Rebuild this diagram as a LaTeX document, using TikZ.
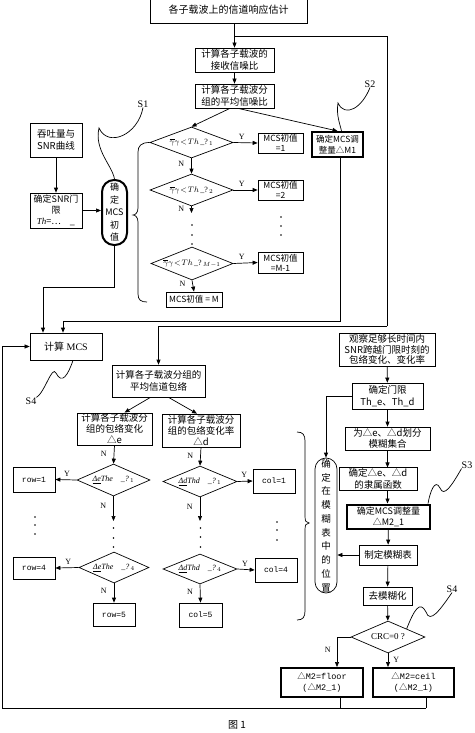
\documentclass[tikz,border=0pt]{standalone}
\usepackage{fontspec}
\setmainfont{Liberation Serif}
\newfontfamily\cjkf{Noto Sans CJK SC}
\newfontfamily\monof{Liberation Mono}
\usetikzlibrary{shapes.geometric,arrows.meta}
\newcommand{\tri}{{\cjkf △}}
\begin{document}
\begin{tikzpicture}[x=1pt,y=-1pt,
  box/.style={draw, line width=0.7pt, inner sep=1pt, align=center, font=\cjkf\fontsize{9.5}{11.5}\selectfont},
  tbox/.style={box, line width=2pt},
  mbox/.style={box, minimum width=45, minimum height=20, font=\cjkf\fontsize{8.5}{10}\selectfont},
  rbox/.style={box, minimum width=42, font=\monof\fontsize{8}{9}\selectfont},
  dia/.style={draw, line width=0.7pt, diamond, aspect=2.6, inner sep=0pt, font=\fontsize{8}{9}\selectfont},
  stad/.style={draw, line width=0.7pt, rounded corners=11pt, inner sep=0pt, align=center, font=\cjkf\fontsize{9.5}{13.75}\selectfont},
  arr/.style={line width=0.7pt, -{Triangle[length=5pt,width=4pt]}},
  ln/.style={line width=0.7pt},
  lab/.style={font=\fontsize{8}{8}\selectfont, inner sep=0pt},
  sl/.style={font=\fontsize{10}{10}\selectfont, inner sep=0pt}
]
\useasboundingbox (0,0) rectangle (474,733);

% ---------- top part ----------
\node[box, minimum width=157, minimum height=26, font=\cjkf\fontsize{10}{12}\selectfont] (top) at (228.5,10) {各子载波上的信道响应估计};
\node[box, minimum width=79, minimum height=24] (b2) at (234.5,60) {计算各子载波的\\接收信噪比};
\node[box, minimum width=79, minimum height=24] (b3) at (234.5,96) {计算各子载波分\\组的平均信噪比};

\node[dia, minimum width=83, minimum height=31] (d1) at (191.5,142.5) {$\overline{\gamma}\gamma\!<\!Th$\,\_?\,$_1$};
\node[mbox] (m1) at (280.5,143) {MCS初值\\=1};
\node[dia, minimum width=83, minimum height=32] (d2) at (191.5,190) {$\overline{\gamma}\gamma\!<\!Th$\,\_?\,$_2$};
\node[mbox] (m2) at (280.5,190) {MCS初值\\=2};
\node[dia, minimum width=82, minimum height=33] (d3) at (192,263.5) {$\overline{\gamma}\gamma\!<\!Th$\,\_?\,$_{M-1}$};
\node[mbox, minimum height=21] (m3) at (280.5,262.5) {MCS初值\\=M-1};
\node[box, minimum width=56, minimum height=15, font=\cjkf\fontsize{8.5}{10}\selectfont] (mM) at (194,299.5) {MCS初值 = M};
\node[tbox, minimum width=51, minimum height=25, font=\cjkf\fontsize{8.5}{10.5}\selectfont] (adj1) at (337.5,144.5) {确定MCS调\\整量△M1};

% ---------- left part ----------
\node[box, minimum width=52, minimum height=34] (tput) at (56,140) {吞吐量与\\SNR曲线};
\node[box, minimum width=52, minimum height=35, font=\cjkf\fontsize{9}{11}\selectfont] (snrth) at (56,210.5) {确定SNR门\\限\\{\rmfamily\itshape Th}=…\quad\_};
\node[stad, line width=2pt, rounded corners=12pt, minimum width=25, minimum height=65, font=\cjkf\fontsize{9}{12.5}\selectfont] (initmcs) at (114.5,212.5) {确\\定\\MCS\\初\\值};
\node[box, minimum width=72, minimum height=27, font=\fontsize{10}{12}\selectfont] (calcmcs) at (66,346.5) {{\cjkf 计算} MCS};

% ---------- envelope part ----------
\node[box, minimum width=93, minimum height=32] (env) at (158.5,381) {计算各子载波分组的\\平均信道包络};
\node[box, minimum width=75, minimum height=32, font=\cjkf\fontsize{9.5}{11}\selectfont] (de) at (114.5,429) {计算各子载波分\\组的包络变化\\△e};
\node[box, minimum width=78, minimum height=33, font=\cjkf\fontsize{9.5}{11}\selectfont] (dd) at (201,430.5) {计算各子载波分\\组的包络变化率\\△d};

\node[dia, minimum width=73, minimum height=32] (dde1) at (113.5,480) {\itshape\underline{Δe}The\quad\_?\,$_1$};
\node[rbox, minimum height=25] (row1) at (34,479.5) {row=1};
\node[dia, minimum width=70, minimum height=31] (dde4) at (114,567.5) {\itshape\underline{Δe}The\quad\_?\,$_4$};
\node[rbox, minimum height=22] (row4) at (34,568) {row=4};
\node[rbox, minimum height=23] (row5) at (114,614.5) {row=5};

\node[dia, minimum width=74, minimum height=31] (ddd1) at (200,481.5) {\itshape\underline{Δd}Thd\quad\_?\,$_1$};
\node[rbox, minimum height=24] (col1) at (274,481) {col=1};
\node[dia, minimum width=74, minimum height=30] (ddd4) at (200,569) {\itshape\underline{Δd}Thd\quad\_?\,$_4$};
\node[rbox, minimum height=24] (col4) at (276,570) {col=4};
\node[rbox, minimum width=43, minimum height=24] (col5) at (200.5,615) {col=5};

\node[stad, minimum width=22, minimum height=135] (pos) at (326,525.5) {确\\定\\在\\模\\糊\\表\\中\\的\\位\\置};

% ---------- right part ----------
\node[box, minimum width=96, minimum height=33, font=\cjkf\fontsize{9.5}{10.5}\selectfont] (obs) at (387,349.5) {观察足够长时间内\\SNR跨越门限时刻的\\包络变化、变化率};
\node[box, minimum width=71, minimum height=26] (thr) at (387.5,396) {确定门限\\Th\_e、Th\_d};
\node[box, minimum width=85, minimum height=23] (fuzzy) at (387.5,438.5) {为△e、△d划分\\模糊集合};
\node[box, minimum width=78, minimum height=22] (memb) at (378,479) {确定△e、△d\\的隶属函数};
\node[tbox, minimum width=83, minimum height=24, font=\cjkf\fontsize{9}{11}\selectfont] (adj2) at (388.5,516.5) {确定MCS调整量\\△M2\_1};
\node[box, minimum width=58, minimum height=20] (table) at (388,555) {制定模糊表};
\node[box, minimum width=49, minimum height=18] (defuzz) at (387.5,596) {去模糊化};
\node[dia, minimum width=74, minimum height=32, font=\fontsize{9}{10}\selectfont] (crc) at (388,637) {CRC=0 ?};
\node[tbox, minimum width=82, minimum height=29, font=\monof\fontsize{8.5}{11}\selectfont] (floor) at (322,682.5) {\tri M2=floor\\(\tri M2\_1)};
\node[tbox, minimum width=81, minimum height=29, font=\monof\fontsize{8.5}{11}\selectfont] (ceil) at (413.5,682.5) {\tri M2=ceil\\(\tri M2\_1)};

% ---------- labels ----------
\node[sl] (s1) at (143,104) {S1};
\node[sl] (s2) at (370,84) {S2};
\node[sl] (s3) at (467,465) {S3};
\node[sl] (s4a) at (31,401) {S4};
\node[sl] (s4b) at (452,589) {S4};
\node[font=\cjkf\fontsize{10}{10}\selectfont] (cap) at (237,725) {图 1};

% ---------- coordinates ----------
\coordinate (j1) at (234.5,36);
\coordinate (rb) at (387,326);
\coordinate (c1) at (340,321);
\coordinate (c2) at (114.5,287);
\coordinate (d2e) at (191.5,213);
\coordinate (de1e) at (113.5,521);
\coordinate (dd1e) at (200,521);
\coordinate (jf) at (340,708);
\coordinate (jc) at (426,708);
\coordinate (fb) at (2,708);
\coordinate (fbt) at (2,346.5);

% ---------- connectors ----------
\draw[arr] (top.south -| b2.north) -- (b2.north);
\draw[ln] (j1) -| (rb);
\draw[arr] (rb) -| (env.north);
\draw[arr] (b2) -- (b3);
\draw[arr] ([xshift=-4.5pt]b3.south) -- (d1.north);
\draw[arr] ([xshift=3.5pt]b3.south) -- (adj1.north);

\draw[arr] (d1.east) -- node[lab, above=3pt, pos=0.35]{Y} (m1.west);
\draw[arr] (d1.south) -- node[lab, left=7pt, pos=0.35]{N} (d2.north);
\draw[arr] (d2.east) -- node[lab, above=3pt, pos=0.35]{Y} (m2.west);
\draw[arr] (d2.south) -- node[lab, left=7pt, pos=0.4]{N} (d2e);
\draw[arr] (d3.east) -- node[lab, above=3pt, pos=0.35]{Y} (m3.west);
\draw[arr] (d3.south) -- node[lab, left=7pt, pos=0.35]{N} (mM.north);

\draw[arr] (tput) -- (snrth);
\draw[arr] (snrth.east) -- (snrth.east -| initmcs.west);
\draw[arr] (initmcs.south) -- (c2) -| ([xshift=-23pt]calcmcs.north);
\draw[arr] ([xshift=2.5pt]adj1.south) -- (c1) -| ([xshift=-3pt]calcmcs.north);

\draw[arr] ([xshift=-8pt]env.south) -- ([xshift=10pt]de.north);
\draw[arr] ([xshift=10pt]env.south) -- ([xshift=-4pt]dd.north);
\draw[arr] (de.south) -- node[lab, left=7pt, pos=0.45]{N} (dde1.north);
\draw[arr] (dde1.west) -- node[lab, above=3pt, pos=0.45]{Y} (row1.east);
\draw[arr] (dde1.south) -- node[lab, left=7pt, pos=0.4]{N} (de1e);
\draw[arr] (dde4.west) -- node[lab, above=3pt, pos=0.45]{Y} (row4.east);
\draw[arr] (dde4.south) -- node[lab, left=7pt, pos=0.4]{N} (row5.north);
\draw[arr] (dd.south) -- node[lab, left=7pt, pos=0.45]{N} (ddd1.north);
\draw[arr] (ddd1.east) -- node[lab, above=3pt, pos=0.45]{Y} (col1.west);
\draw[arr] (ddd1.south) -- node[lab, left=7pt, pos=0.4]{N} (dd1e);
\draw[arr] (ddd4.east) -- node[lab, above=3pt, pos=0.45]{Y} (col4.west);
\draw[arr] (ddd4.south) -- node[lab, left=7pt, pos=0.4]{N} (col5.north);

\draw[arr] (obs) -- (thr);
\draw[arr] (thr.west) -| (pos.north);
\draw[arr] (thr) -- (fuzzy);
\draw[arr] (fuzzy.south) -- (fuzzy.south |- memb.north);
\draw[arr] (fuzzy.south |- memb.south) -- (adj2.north -| fuzzy.south);
\draw[arr] (adj2) -- (table);
\draw[arr] (table.west) -- (pos.east |- table.west);
\draw[arr] (table) -- (defuzz);
\draw[arr] (defuzz) -- (crc);
\draw[arr] (crc.west) -| node[lab, left=6pt, pos=0.72]{N} ([xshift=15pt]floor.north);
\draw[arr] (crc.south) -- node[lab, right=5pt, pos=0.5]{Y} (crc.south |- ceil.north);

\draw[ln] ([xshift=18pt]floor.south) -- (jf);
\draw[ln] ([xshift=12.5pt]ceil.south) -- (jc);
\draw[ln] (jc) -- (jf);
\draw[arr, line width=0.5pt] (jf) -- (fb) -- (fbt) -- (calcmcs.west);

% ---------- braces ----------
\draw[ln] (d1.west) .. controls (141,142.5) and (138,146) .. (138,152) -- (138,208)
  .. controls (138,213) and (135,215) .. (133,215) .. controls (135,215) and (138,217) .. (138,222)
  -- (138,294) .. controls (138,300) and (141,302) .. (147,302);
\draw[ln] (297,432) .. controls (303,432) and (305,435) .. (305,441) -- (305,516)
  .. controls (305,521) and (306,523) .. (309,523) .. controls (306,523) and (305,525) .. (305,530)
  -- (305,611) .. controls (305,617) and (303,620) .. (297,620);

% ---------- dots ----------
\foreach \y in {225,235,244} \fill (192,\y) circle (0.8);
\foreach \y in {217,226,235} \fill (281,\y) circle (0.8);
\foreach \y in {528,538,547} \fill (113.5,\y) circle (0.8);
\foreach \y in {517,525,534} \fill (35,\y) circle (0.8);
\foreach \y in {528,537,547} \fill (200.5,\y) circle (0.8);
\foreach \y in {522,530,540} \fill (277,\y) circle (0.8);

% ---------- squiggles ----------
\draw[ln] (s1.south) .. controls (138,135) and (108,148) .. (99,128) .. controls (94,150) and (112,165) .. (initmcs.north);
\draw[ln] (s2.south) .. controls (362,108) and (345,118) .. (338,103) .. controls (336,115) and (340,124) .. ([xshift=4pt]adj1.north);
\draw[ln] ([xshift=-3pt]adj2.north east) .. controls (430,492) and (435,478) .. (440,488) .. controls (444,498) and (452,485) .. (s3.south west);
\draw[ln] (crc.north east) .. controls (414,610) and (420,600) .. (426,612) .. controls (430,624) and (440,610) .. (s4b.south);
\draw[ln] ([xshift=7pt]calcmcs.south) .. controls (68,375) and (62,385) .. (56,373) .. controls (52,365) and (45,392) .. (s4a.north east);
\end{tikzpicture}
\end{document}
